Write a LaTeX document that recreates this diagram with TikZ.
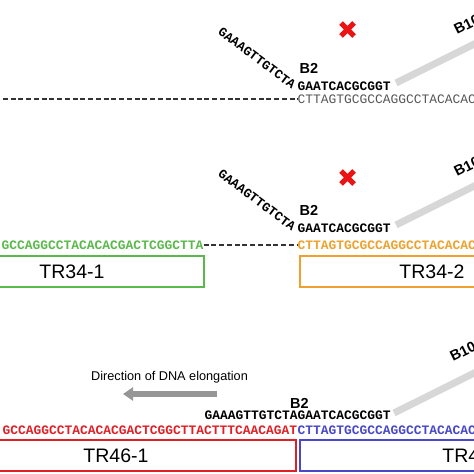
\documentclass[tikz,border=0pt]{standalone}
\usepackage{fontspec}
\setmainfont{Liberation Sans}
\newfontfamily\seqfont{Liberation Mono}
\usetikzlibrary{arrows.meta,positioning}

\definecolor{tr34green}{RGB}{90,185,75}
\definecolor{tr34orange}{RGB}{238,162,45}
\definecolor{tr46red}{RGB}{225,32,38}
\definecolor{tr46blue}{RGB}{72,72,200}
\definecolor{strandgray}{RGB}{85,85,85}
\definecolor{primergray}{RGB}{215,215,215}
\definecolor{arrowgray}{RGB}{150,150,150}
\definecolor{crossred}{RGB}{235,20,20}

\tikzset{
  seq/.style={font=\seqfont\bfseries\fontsize{12.92}{14}\selectfont, inner sep=0pt},
  seqthin/.style={font=\seqfont\fontsize{12.92}{14}\selectfont, inner sep=0pt},
  primer/.style={font=\bfseries\fontsize{14.5}{16}\selectfont, inner sep=0pt},
  region/.style={draw, line width=1.5pt, minimum height=31pt, inner sep=0pt,
    font=\fontsize{19.5}{22}\selectfont},
  gap/.style={dash pattern=on 5pt off 2.75pt, line width=1.2pt, black!80},
  bar/.style={line width=7pt, primergray},
  cross/.style={line width=5pt, crossred},
  elong/.style={line width=6pt, arrowgray, -{Triangle[length=10pt,width=13pt]}}
}

\begin{document}
\begin{tikzpicture}[x=1pt,y=-1pt]
  \useasboundingbox (0,0) rectangle (474,474);
  \clip (0,0) rectangle (474,474);
  \coordinate (lft) at (-5,0);

  % primers B2 and B10 over TR34 (two upper panels)
  \foreach \dy/\xy [count=\n] in {0/29.5, 142/177.5}
           {
             \begin{scope}[shift={(0,\dy)}]
               \node[seq, rotate=-37] (tail\n) at (257,58) {GAAAGTTGTCTA};
               \node[primer, anchor=base west] (btwo\n) at (299.5,73.3) {B2};
               \node[seq, anchor=base west] (bind\n) at (297.5,90.7) {GAATCACGCGGT};
               \coordinate (barA\n) at (396,83);
               \coordinate (barB\n) at (520,21.2);
               \draw[bar] (barA\n) -- (barB\n);
               \node[primer, rotate=26.5, anchor=base west] (bten\n) at (457,35) {B10};
             \end{scope}
             % no binding
             \draw[cross] (347.5,\xy) ++(-6.5,-6.5) -- ++(13,13)
                          (347.5,\xy) ++(6.5,-6.5) -- ++(-13,13);
           }

  % panel 1: single TR34
  \node[seqthin, text=strandgray, anchor=base west] (tmpl) at (297.5,103.3) {CTTAGTGCGCCAGGCCTACACAC};
  \draw[gap] (lft |- tmpl.west) -- (tmpl.west);

  % panel 2: TR34 tandem
  \node[seq, text=tr34green, anchor=base east] (tr34a) at (203.5,249.3) {GCCAGGCCTACACACGACTCGGCTTA};
  \node[seq, text=tr34orange, anchor=base west] (tr34b) at (297.5,249.3) {CTTAGTGCGCCAGGCCTACACAC};
  \draw[gap] (tr34a) -- (tr34b);
  \node[region, draw=tr34green, minimum width=264pt] (boxA) at (72,271.5) {TR34-1};
  \node[region, draw=tr34orange, minimum width=264pt] (boxB) at (432,271.5) {TR34-2};

  % panel 3: TR46 tandem
  \node[inner sep=0pt, anchor=base, font=\fontsize{12.7}{14}\selectfont] (dirlabel) at (169.5,380) {Direction of DNA elongation};
  \coordinate (elongA) at (217,394);
  \coordinate (elongB) at (123,394);
  \draw[elong] (elongA) -- (elongB);
  \node[primer, anchor=base west] (btwo3) at (290,408) {B2};
  \node[seq, anchor=base west] (bind3) at (204.5,419) {GAAAGTTGTCTAGAATCACGCGGT};
  \coordinate (barA3) at (394,413);
  \coordinate (barB3) at (520,350.2);
  \draw[bar] (barA3) -- (barB3);
  \node[primer, rotate=26.5, anchor=base west] (bten3) at (453,362) {B10};
  \node[seq, text=tr46red, anchor=base east] (tr46a) at (297.5,434) {GCCAGGCCTACACACGACTCGGCTTACTTTCAACAGAT};
  \node[seq, text=tr46blue, anchor=base west] (tr46b) at (tr46a.base east) {CTTAGTGCGCCAGGCCTACACAC};
  \node[region, draw=tr46red, minimum width=360pt] (boxC) at (116,455.5) {TR46-1};
  \node[region, draw=tr46blue, minimum width=350pt] (boxD) at (475,455.5) {TR46-2};
\end{tikzpicture}
\end{document}
